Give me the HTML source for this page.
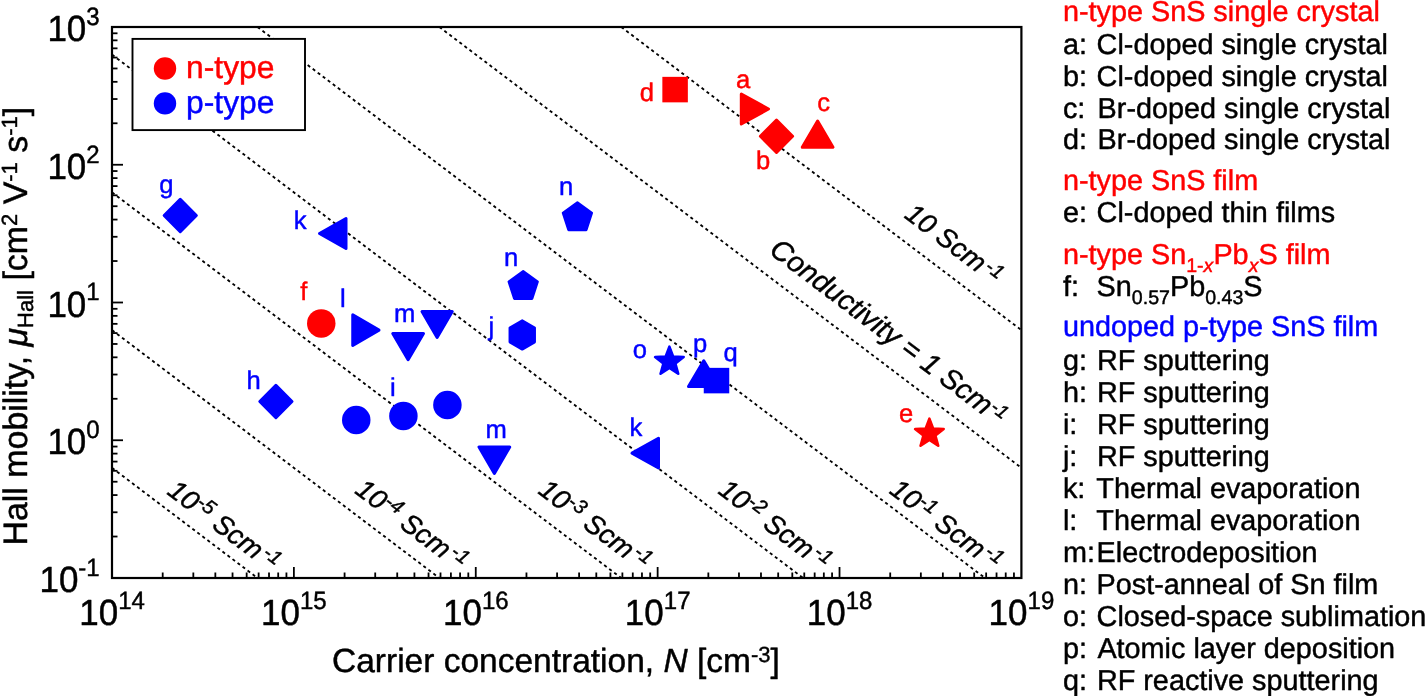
<!DOCTYPE html>
<html lang="en">
<head>
<meta charset="utf-8">
<title>Hall mobility vs carrier concentration of SnS</title>
<style>
html,body{margin:0;padding:0;background:#fff;}
body{width:1425px;height:696px;overflow:hidden;font-family:'Liberation Sans', Arial, Helvetica, sans-serif;}
svg{display:block;}
svg text{stroke-width:0.45px;stroke-linejoin:round;}
</style>
</head>
<body>
<svg width="1425" height="696" viewBox="0 0 1425 696" font-family="'Liberation Sans', Arial, Helvetica, sans-serif" text-rendering="geometricPrecision">
<rect width="1425" height="696" fill="#fff"/>
<g stroke="#000" stroke-width="1.85" stroke-dasharray="3.1 3.2" fill="none">
<line x1="112" y1="467.84" x2="257.46" y2="578"/>
<line x1="112" y1="330.09" x2="439.34" y2="578"/>
<line x1="112" y1="192.34" x2="621.22" y2="578"/>
<line x1="112" y1="54.59" x2="803.1" y2="578"/>
<line x1="257.46" y1="27" x2="984.98" y2="578"/>
<line x1="439.34" y1="27" x2="1021.4" y2="467.84"/>
<line x1="621.22" y1="27" x2="1021.4" y2="330.09"/>
</g>
<g stroke="#000" stroke-width="1.8" fill="none">
<line x1="162.7" y1="578" x2="162.7" y2="572.5"/>
<line x1="193.33" y1="578" x2="193.33" y2="572.5"/>
<line x1="215.34" y1="578" x2="215.34" y2="572.5"/>
<line x1="232.54" y1="578" x2="232.54" y2="572.5"/>
<line x1="246.66" y1="578" x2="246.66" y2="572.5"/>
<line x1="258.63" y1="578" x2="258.63" y2="572.5"/>
<line x1="269.02" y1="578" x2="269.02" y2="572.5"/>
<line x1="278.2" y1="578" x2="278.2" y2="572.5"/>
<line x1="286.43" y1="578" x2="286.43" y2="572.5"/>
<line x1="293.88" y1="578" x2="293.88" y2="567"/>
<line x1="344.58" y1="578" x2="344.58" y2="572.5"/>
<line x1="375.21" y1="578" x2="375.21" y2="572.5"/>
<line x1="397.22" y1="578" x2="397.22" y2="572.5"/>
<line x1="414.42" y1="578" x2="414.42" y2="572.5"/>
<line x1="428.54" y1="578" x2="428.54" y2="572.5"/>
<line x1="440.51" y1="578" x2="440.51" y2="572.5"/>
<line x1="450.9" y1="578" x2="450.9" y2="572.5"/>
<line x1="460.08" y1="578" x2="460.08" y2="572.5"/>
<line x1="468.31" y1="578" x2="468.31" y2="572.5"/>
<line x1="475.76" y1="578" x2="475.76" y2="567"/>
<line x1="526.46" y1="578" x2="526.46" y2="572.5"/>
<line x1="557.09" y1="578" x2="557.09" y2="572.5"/>
<line x1="579.1" y1="578" x2="579.1" y2="572.5"/>
<line x1="596.3" y1="578" x2="596.3" y2="572.5"/>
<line x1="610.42" y1="578" x2="610.42" y2="572.5"/>
<line x1="622.39" y1="578" x2="622.39" y2="572.5"/>
<line x1="632.78" y1="578" x2="632.78" y2="572.5"/>
<line x1="641.96" y1="578" x2="641.96" y2="572.5"/>
<line x1="650.19" y1="578" x2="650.19" y2="572.5"/>
<line x1="657.64" y1="578" x2="657.64" y2="567"/>
<line x1="708.34" y1="578" x2="708.34" y2="572.5"/>
<line x1="738.97" y1="578" x2="738.97" y2="572.5"/>
<line x1="760.98" y1="578" x2="760.98" y2="572.5"/>
<line x1="778.18" y1="578" x2="778.18" y2="572.5"/>
<line x1="792.3" y1="578" x2="792.3" y2="572.5"/>
<line x1="804.27" y1="578" x2="804.27" y2="572.5"/>
<line x1="814.66" y1="578" x2="814.66" y2="572.5"/>
<line x1="823.84" y1="578" x2="823.84" y2="572.5"/>
<line x1="832.07" y1="578" x2="832.07" y2="572.5"/>
<line x1="839.52" y1="578" x2="839.52" y2="567"/>
<line x1="890.22" y1="578" x2="890.22" y2="572.5"/>
<line x1="920.85" y1="578" x2="920.85" y2="572.5"/>
<line x1="942.86" y1="578" x2="942.86" y2="572.5"/>
<line x1="960.06" y1="578" x2="960.06" y2="572.5"/>
<line x1="974.18" y1="578" x2="974.18" y2="572.5"/>
<line x1="986.15" y1="578" x2="986.15" y2="572.5"/>
<line x1="996.54" y1="578" x2="996.54" y2="572.5"/>
<line x1="1005.72" y1="578" x2="1005.72" y2="572.5"/>
<line x1="1013.95" y1="578" x2="1013.95" y2="572.5"/>
<line x1="112" y1="536.53" x2="117.5" y2="536.53"/>
<line x1="112" y1="512.28" x2="117.5" y2="512.28"/>
<line x1="112" y1="495.07" x2="117.5" y2="495.07"/>
<line x1="112" y1="481.72" x2="117.5" y2="481.72"/>
<line x1="112" y1="470.81" x2="117.5" y2="470.81"/>
<line x1="112" y1="461.59" x2="117.5" y2="461.59"/>
<line x1="112" y1="453.6" x2="117.5" y2="453.6"/>
<line x1="112" y1="446.55" x2="117.5" y2="446.55"/>
<line x1="112" y1="440.25" x2="123" y2="440.25"/>
<line x1="112" y1="398.78" x2="117.5" y2="398.78"/>
<line x1="112" y1="374.53" x2="117.5" y2="374.53"/>
<line x1="112" y1="357.32" x2="117.5" y2="357.32"/>
<line x1="112" y1="343.97" x2="117.5" y2="343.97"/>
<line x1="112" y1="333.06" x2="117.5" y2="333.06"/>
<line x1="112" y1="323.84" x2="117.5" y2="323.84"/>
<line x1="112" y1="315.85" x2="117.5" y2="315.85"/>
<line x1="112" y1="308.8" x2="117.5" y2="308.8"/>
<line x1="112" y1="302.5" x2="123" y2="302.5"/>
<line x1="112" y1="261.03" x2="117.5" y2="261.03"/>
<line x1="112" y1="236.78" x2="117.5" y2="236.78"/>
<line x1="112" y1="219.57" x2="117.5" y2="219.57"/>
<line x1="112" y1="206.22" x2="117.5" y2="206.22"/>
<line x1="112" y1="195.31" x2="117.5" y2="195.31"/>
<line x1="112" y1="186.09" x2="117.5" y2="186.09"/>
<line x1="112" y1="178.1" x2="117.5" y2="178.1"/>
<line x1="112" y1="171.05" x2="117.5" y2="171.05"/>
<line x1="112" y1="164.75" x2="123" y2="164.75"/>
<line x1="112" y1="123.28" x2="117.5" y2="123.28"/>
<line x1="112" y1="99.03" x2="117.5" y2="99.03"/>
<line x1="112" y1="81.82" x2="117.5" y2="81.82"/>
<line x1="112" y1="68.47" x2="117.5" y2="68.47"/>
<line x1="112" y1="57.56" x2="117.5" y2="57.56"/>
<line x1="112" y1="48.34" x2="117.5" y2="48.34"/>
<line x1="112" y1="40.35" x2="117.5" y2="40.35"/>
<line x1="112" y1="33.3" x2="117.5" y2="33.3"/>
</g>
<rect x="112" y="27" width="909.4" height="551" fill="none" stroke="#000" stroke-width="2.2"/>
<text transform="translate(768.1 252.7) rotate(37.14)" font-style="italic" font-size="28.7" fill="#000" stroke="#000">Conductivity = 1 Scm<tspan font-size="19" dy="-8.5" dx="0.8">-1</tspan></text>
<text transform="translate(903.3 217) rotate(37.14)" font-style="italic" font-size="27.5" fill="#000" stroke="#000">10 Scm<tspan font-size="20" dy="-7" dx="2.5">-1</tspan></text>
<text transform="translate(166 493.4) rotate(37.14)" font-style="italic" font-size="27.5" fill="#000" stroke="#000">10<tspan font-size="20" dy="-8.5" dx="0">-5</tspan><tspan dy="8.5"> Scm</tspan><tspan font-size="20" dy="-8.5" dx="2.5">-1</tspan></text>
<text transform="translate(353.8 492.6) rotate(37.14)" font-style="italic" font-size="27.5" fill="#000" stroke="#000">10<tspan font-size="20" dy="-8.5" dx="0">-4</tspan><tspan dy="8.5"> Scm</tspan><tspan font-size="20" dy="-8.5" dx="2.5">-1</tspan></text>
<text transform="translate(537.1 492.8) rotate(37.14)" font-style="italic" font-size="27.5" fill="#000" stroke="#000">10<tspan font-size="20" dy="-8.5" dx="0">-3</tspan><tspan dy="8.5"> Scm</tspan><tspan font-size="20" dy="-8.5" dx="2.5">-1</tspan></text>
<text transform="translate(717.1 492.8) rotate(37.14)" font-style="italic" font-size="27.5" fill="#000" stroke="#000">10<tspan font-size="20" dy="-8.5" dx="0">-2</tspan><tspan dy="8.5"> Scm</tspan><tspan font-size="20" dy="-8.5" dx="2.5">-1</tspan></text>
<text transform="translate(888.2 492.5) rotate(37.14)" font-style="italic" font-size="27.5" fill="#000" stroke="#000">10<tspan font-size="20" dy="-8.5" dx="0">-1</tspan><tspan dy="8.5"> Scm</tspan><tspan font-size="20" dy="-8.5" dx="2.5">-1</tspan></text>
<rect x="662.35" y="76.85" width="25.5" height="25.5" fill="#ff0000"/>
<polygon points="741.3,94 768.5,109 741.3,124" fill="#ff0000" stroke="#ff0000" stroke-width="3" stroke-linejoin="round"/>
<polygon points="776.5,120.15 792.6,136.25 776.5,152.35 760.4,136.25" fill="#ff0000" stroke="#ff0000" stroke-width="3" stroke-linejoin="round"/>
<polygon points="817.62,121 833,147.25 802.25,147.25" fill="#ff0000" stroke="#ff0000" stroke-width="3" stroke-linejoin="round"/>
<polygon points="929.4,418.6 933.1,428.5 943.67,428.96 935.39,435.55 938.22,445.74 929.4,439.9 920.58,445.74 923.41,435.55 915.13,428.96 925.7,428.5" fill="#ff0000" stroke="#ff0000" stroke-width="2.6" stroke-linejoin="round"/>
<circle cx="321.25" cy="323.4" r="14.25" fill="#ff0000"/>
<polygon points="180.25,199.4 196.35,215.5 180.25,231.6 164.15,215.5" fill="#0000ff" stroke="#0000ff" stroke-width="3" stroke-linejoin="round"/>
<polygon points="346,218.5 346,248.5 319.5,233.5" fill="#0000ff" stroke="#0000ff" stroke-width="3" stroke-linejoin="round"/>
<polygon points="352.75,314.75 379,330.12 352.75,345.5" fill="#0000ff" stroke="#0000ff" stroke-width="3" stroke-linejoin="round"/>
<polygon points="392.75,333.5 423.5,333.5 408.12,359.75" fill="#0000ff" stroke="#0000ff" stroke-width="3" stroke-linejoin="round"/>
<polygon points="422,311.5 452.25,311.5 437.12,337.5" fill="#0000ff" stroke="#0000ff" stroke-width="3" stroke-linejoin="round"/>
<polygon points="523.2,271.2 537.66,281.7 532.13,298.7 514.27,298.7 508.74,281.7" fill="#0000ff" stroke="#0000ff" stroke-width="2.4" stroke-linejoin="round"/>
<polygon points="577.4,202.45 591.86,212.95 586.33,229.95 568.47,229.95 562.94,212.95" fill="#0000ff" stroke="#0000ff" stroke-width="2.4" stroke-linejoin="round"/>
<polygon points="522.25,320.45 534.76,327.67 534.76,342.12 522.25,349.35 509.74,342.12 509.74,327.67" fill="#0000ff" stroke="#0000ff" stroke-width="2.4" stroke-linejoin="round"/>
<polygon points="275.9,385.4 292,401.5 275.9,417.6 259.8,401.5" fill="#0000ff" stroke="#0000ff" stroke-width="3" stroke-linejoin="round"/>
<circle cx="356.25" cy="420" r="14.25" fill="#0000ff"/>
<circle cx="403.4" cy="415.9" r="14.25" fill="#0000ff"/>
<circle cx="447.4" cy="405" r="14.25" fill="#0000ff"/>
<polygon points="479,447 509.75,447 494.38,473.5" fill="#0000ff" stroke="#0000ff" stroke-width="3" stroke-linejoin="round"/>
<polygon points="669.4,346.6 673.1,356.5 683.67,356.96 675.39,363.55 678.22,373.74 669.4,367.9 660.58,373.74 663.41,363.55 655.13,356.96 665.7,356.5" fill="#0000ff" stroke="#0000ff" stroke-width="2.6" stroke-linejoin="round"/>
<polygon points="703.75,360.75 719,386.5 688.5,386.5" fill="#0000ff" stroke="#0000ff" stroke-width="3" stroke-linejoin="round"/>
<rect x="703.75" y="367.85" width="25.5" height="25.5" fill="#0000ff"/>
<polygon points="658.5,438.25 658.5,468 632,453.12" fill="#0000ff" stroke="#0000ff" stroke-width="3" stroke-linejoin="round"/>
<text x="736" y="87.5" font-size="25.6" fill="#ff0000" stroke="#ff0000">a</text>
<text x="756" y="169" font-size="25.6" fill="#ff0000" stroke="#ff0000">b</text>
<text x="817.3" y="110.5" font-size="25.6" fill="#ff0000" stroke="#ff0000">c</text>
<text x="639.8" y="101.25" font-size="25.6" fill="#ff0000" stroke="#ff0000">d</text>
<text x="899" y="421.75" font-size="25.6" fill="#ff0000" stroke="#ff0000">e</text>
<text x="300.3" y="300" font-size="25.6" fill="#ff0000" stroke="#ff0000">f</text>
<text x="159.2" y="192.8" font-size="25.6" fill="#0000ff" stroke="#0000ff">g</text>
<text x="293.8" y="228.75" font-size="25.6" fill="#0000ff" stroke="#0000ff">k</text>
<text x="339.9" y="307" font-size="25.6" fill="#0000ff" stroke="#0000ff">l</text>
<text x="394.1" y="322" font-size="25.6" fill="#0000ff" stroke="#0000ff">m</text>
<text x="503.9" y="266.25" font-size="25.6" fill="#0000ff" stroke="#0000ff">n</text>
<text x="559.1" y="195" font-size="25.6" fill="#0000ff" stroke="#0000ff">n</text>
<text x="488.5" y="334.5" font-size="25.6" fill="#0000ff" stroke="#0000ff">j</text>
<text x="246.4" y="389.1" font-size="25.6" fill="#0000ff" stroke="#0000ff">h</text>
<text x="389.9" y="395.75" font-size="25.6" fill="#0000ff" stroke="#0000ff">i</text>
<text x="485.4" y="438" font-size="25.6" fill="#0000ff" stroke="#0000ff">m</text>
<text x="632.8" y="358" font-size="25.6" fill="#0000ff" stroke="#0000ff">o</text>
<text x="692.9" y="352" font-size="25.6" fill="#0000ff" stroke="#0000ff">p</text>
<text x="723.4" y="361.25" font-size="25.6" fill="#0000ff" stroke="#0000ff">q</text>
<text x="629.6" y="436.25" font-size="25.6" fill="#0000ff" stroke="#0000ff">k</text>
<rect x="132.5" y="38.9" width="172.5" height="91.2" fill="#fff" stroke="#000" stroke-width="1.9"/>
<circle cx="165" cy="68.5" r="11.2" fill="#ff0000"/>
<circle cx="165" cy="103.4" r="11.2" fill="#0000ff"/>
<text x="186.1" y="78.4" font-size="31.8" fill="#ff0000" stroke="#ff0000">n-type</text>
<text x="186.1" y="113.4" font-size="31.8" fill="#0000ff" stroke="#0000ff">p-type</text>
<text transform="translate(79.2 625) scale(1 1.04)" font-size="35" fill="#000" stroke="#000">10<tspan font-size="24" dy="-15.6">14</tspan></text>
<text transform="translate(261.08 625) scale(1 1.04)" font-size="35" fill="#000" stroke="#000">10<tspan font-size="24" dy="-15.6">15</tspan></text>
<text transform="translate(442.96 625) scale(1 1.04)" font-size="35" fill="#000" stroke="#000">10<tspan font-size="24" dy="-15.6">16</tspan></text>
<text transform="translate(624.84 625) scale(1 1.04)" font-size="35" fill="#000" stroke="#000">10<tspan font-size="24" dy="-15.6">17</tspan></text>
<text transform="translate(806.72 625) scale(1 1.04)" font-size="35" fill="#000" stroke="#000">10<tspan font-size="24" dy="-15.6">18</tspan></text>
<text transform="translate(988.6 625) scale(1 1.04)" font-size="35" fill="#000" stroke="#000">10<tspan font-size="24" dy="-15.6">19</tspan></text>
<text transform="translate(99.7 592) scale(1 1.04)" font-size="35" fill="#000" stroke="#000" text-anchor="end">10<tspan font-size="24" dy="-15.6">-1</tspan></text>
<text transform="translate(99.7 454.25) scale(1 1.04)" font-size="35" fill="#000" stroke="#000" text-anchor="end">10<tspan font-size="24" dy="-15.6">0</tspan></text>
<text transform="translate(99.7 316.5) scale(1 1.04)" font-size="35" fill="#000" stroke="#000" text-anchor="end">10<tspan font-size="24" dy="-15.6">1</tspan></text>
<text transform="translate(99.7 178.75) scale(1 1.04)" font-size="35" fill="#000" stroke="#000" text-anchor="end">10<tspan font-size="24" dy="-15.6">2</tspan></text>
<text transform="translate(99.7 41) scale(1 1.04)" font-size="35" fill="#000" stroke="#000" text-anchor="end">10<tspan font-size="24" dy="-15.6">3</tspan></text>
<text x="332" y="671.6" font-size="33.5" fill="#000" stroke="#000">Carrier concentration, <tspan font-style="italic">N</tspan> [cm<tspan font-size="22" dy="-10">-3</tspan><tspan dy="10">]</tspan></text>
<text transform="translate(26.5 545.5) rotate(-90)" font-size="33.9" fill="#000" stroke="#000">Hall mobility, <tspan font-style="italic">μ</tspan><tspan font-size="22" dy="6">Hall</tspan><tspan dy="-6"> [cm</tspan><tspan font-size="22" dy="-10">2</tspan><tspan dy="10"> V</tspan><tspan font-size="22" dy="-10">-1</tspan><tspan dy="10"> s</tspan><tspan font-size="22" dy="-10">-1</tspan><tspan dy="10">]</tspan></text>
<text x="1062.9" y="20.6" font-size="28.8" fill="#ff0000" stroke="#ff0000">n-type SnS single crystal</text>
<text x="1062.9" y="54.1" font-size="28.8" fill="#000" stroke="#000">a:</text>
<text x="1096.6" y="54.1" font-size="28.8" fill="#000" stroke="#000">Cl-doped single crystal</text>
<text x="1062.9" y="85.9" font-size="28.8" fill="#000" stroke="#000">b:</text>
<text x="1096.6" y="85.9" font-size="28.8" fill="#000" stroke="#000">Cl-doped single crystal</text>
<text x="1062.9" y="117.5" font-size="28.8" fill="#000" stroke="#000">c:</text>
<text x="1097.6" y="117.5" font-size="28.8" fill="#000" stroke="#000">Br-doped single crystal</text>
<text x="1062.9" y="149.2" font-size="28.8" fill="#000" stroke="#000">d:</text>
<text x="1097.6" y="149.2" font-size="28.8" fill="#000" stroke="#000">Br-doped single crystal</text>
<text x="1062.9" y="190" font-size="28.8" fill="#ff0000" stroke="#ff0000">n-type SnS film</text>
<text x="1062.9" y="222.3" font-size="28.8" fill="#000" stroke="#000">e:</text>
<text x="1096.6" y="222.3" font-size="28.8" fill="#000" stroke="#000">Cl-doped thin films</text>
<text x="1062.9" y="263.8" font-size="28.8" fill="#ff0000" stroke="#ff0000">n-type Sn<tspan font-size="19.6" dy="8">1-<tspan font-style="italic">x</tspan></tspan><tspan dy="-8">Pb</tspan><tspan font-size="19.6" dy="8" font-style="italic">x</tspan><tspan dy="-8">S film</tspan></text>
<text x="1062.9" y="296.3" font-size="28.8" fill="#000" stroke="#000">f:</text>
<text x="1096.6" y="296.3" font-size="28.8" fill="#000" stroke="#000">Sn<tspan font-size="19.6" dy="8">0.57</tspan><tspan dy="-8">Pb</tspan><tspan font-size="19.6" dy="8">0.43</tspan><tspan dy="-8">S</tspan></text>
<text x="1062.9" y="336.3" font-size="28.8" fill="#0000ff" stroke="#0000ff">undoped p-type SnS film</text>
<text x="1062.9" y="369.5" font-size="28.8" fill="#000" stroke="#000">g:</text>
<text x="1096.9" y="369.5" font-size="28.8" fill="#000" stroke="#000">RF sputtering</text>
<text x="1062.9" y="401.5" font-size="28.8" fill="#000" stroke="#000">h:</text>
<text x="1096.9" y="401.5" font-size="28.8" fill="#000" stroke="#000">RF sputtering</text>
<text x="1062.9" y="433.5" font-size="28.8" fill="#000" stroke="#000">i:</text>
<text x="1096.9" y="433.5" font-size="28.8" fill="#000" stroke="#000">RF sputtering</text>
<text x="1062.9" y="465.5" font-size="28.8" fill="#000" stroke="#000">j:</text>
<text x="1096.9" y="465.5" font-size="28.8" fill="#000" stroke="#000">RF sputtering</text>
<text x="1062.9" y="497.5" font-size="28.8" fill="#000" stroke="#000">k:</text>
<text x="1096.3" y="497.5" font-size="28.8" fill="#000" stroke="#000">Thermal evaporation</text>
<text x="1062.9" y="529.5" font-size="28.8" fill="#000" stroke="#000">l:</text>
<text x="1096.3" y="529.5" font-size="28.8" fill="#000" stroke="#000">Thermal evaporation</text>
<text x="1062.9" y="561.5" font-size="28.8" fill="#000" stroke="#000">m:</text>
<text x="1096.6" y="561.5" font-size="28.8" fill="#000" stroke="#000">Electrodeposition</text>
<text x="1062.9" y="593.5" font-size="28.8" fill="#000" stroke="#000">n:</text>
<text x="1096.6" y="593.5" font-size="28.8" fill="#000" stroke="#000">Post-anneal of Sn film</text>
<text x="1062.9" y="625.5" font-size="28.8" fill="#000" stroke="#000">o:</text>
<text x="1096.6" y="625.5" font-size="28.8" fill="#000" stroke="#000">Closed-space sublimation</text>
<text x="1062.9" y="657.5" font-size="28.8" fill="#000" stroke="#000">p:</text>
<text x="1097.4" y="657.5" font-size="28.8" fill="#000" stroke="#000">Atomic layer deposition</text>
<text x="1062.9" y="689.5" font-size="28.8" fill="#000" stroke="#000">q:</text>
<text x="1096.9" y="689.5" font-size="28.8" fill="#000" stroke="#000">RF reactive sputtering</text>
</svg>
</body>
</html>
